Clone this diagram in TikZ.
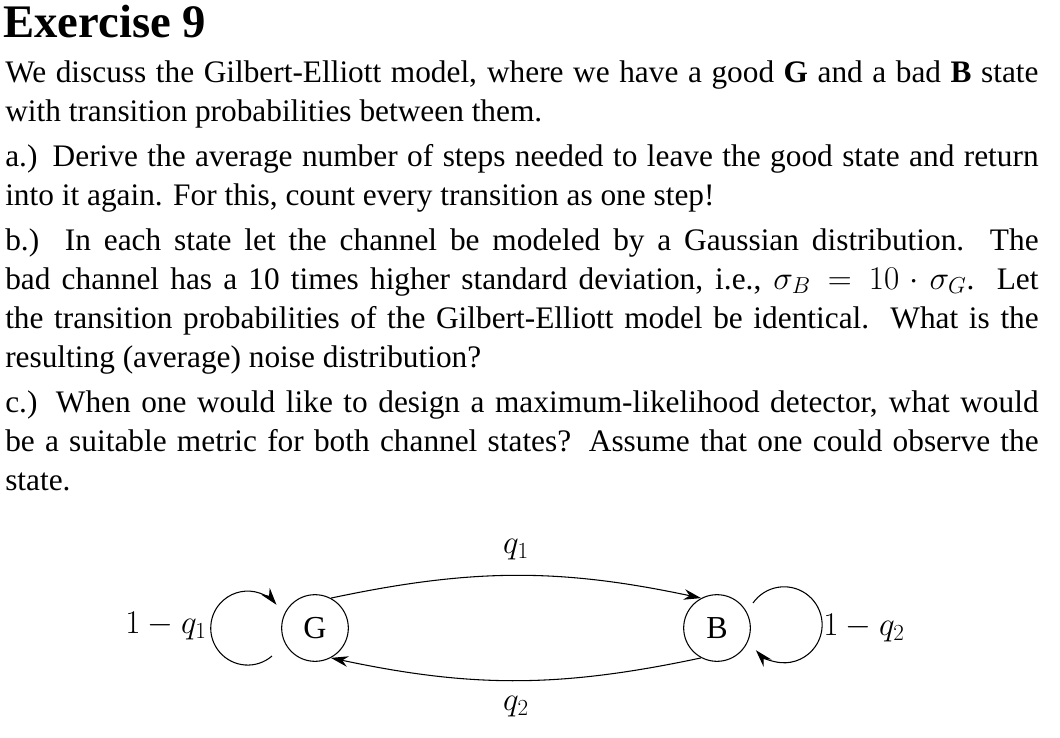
\documentclass[tikz,border=0pt]{standalone}
\usepackage{fontspec}
\setmainfont{Liberation Serif}
\usetikzlibrary{arrows.meta}
\begin{document}
\begin{tikzpicture}[x=0.75pt,y=-0.75pt,
  st/.style={draw,circle,minimum size=50pt,inner sep=0pt,line width=0.8pt,font=\fontsize{24}{28}\selectfont},
  lab/.style={font=\fontsize{24}{28}\selectfont},
  arr/.style={-{Stealth[length=13pt,width=8pt]},line width=0.8pt}]
\useasboundingbox (0,0) rectangle (1060,738);
\node[anchor=base west,inner sep=0pt,font=\fontsize{35}{40}\selectfont\bfseries] (title) at (3,38) {Exercise 9};
\node[anchor=north west,inner sep=0pt,text width=775pt,align=justify,
  font=\fontsize{23.5}{29.25}\selectfont] (body) at (5,60) {%
\setlength{\parskip}{4.5pt}%
We discuss the Gilbert-Elliott model, where we have a good \textbf{G} and a bad \textbf{B} state\linebreak with transition probabilities between them.\par
a.) Derive the average number of steps needed to leave the good state and return\linebreak into it again. For this, count every transition as one step!\par
b.)\ \ In each state let the channel be modeled by a Gaussian distribution.\ \ The\linebreak bad channel has a 10 times higher standard deviation, i.e., $\sigma_B = 10\cdot\sigma_G$.\ \ Let\linebreak the transition probabilities of the Gilbert-Elliott model be identical.\ \ What is the\linebreak resulting (average) noise distribution?\par
c.) When one would like to design a maximum-likelihood detector, what would\linebreak be a suitable metric for both channel states? Assume that one could observe the\linebreak state.\par};
\node[st] (G) at (315,628) {G};
\node[st] (B) at (717,628) {B};
\draw[arr] (G.62) to[bend left=12] node[lab,above=8pt] (q1) {$q_1$} (B.118);
\draw[arr] (B.-118) to[bend left=12] node[lab,below=8pt] (q2) {$q_2$} (G.-62);
\draw[arr] (272,656) arc[start angle=49,end angle=321,radius=37];
\draw[arr] (753,603) arc[start angle=-145,end angle=138,radius=38];
\node[lab] (l1) at (166,626) {$1-q_1$};
\node[lab] (l2) at (864,628) {$1-q_2$};
\end{tikzpicture}
\end{document}
